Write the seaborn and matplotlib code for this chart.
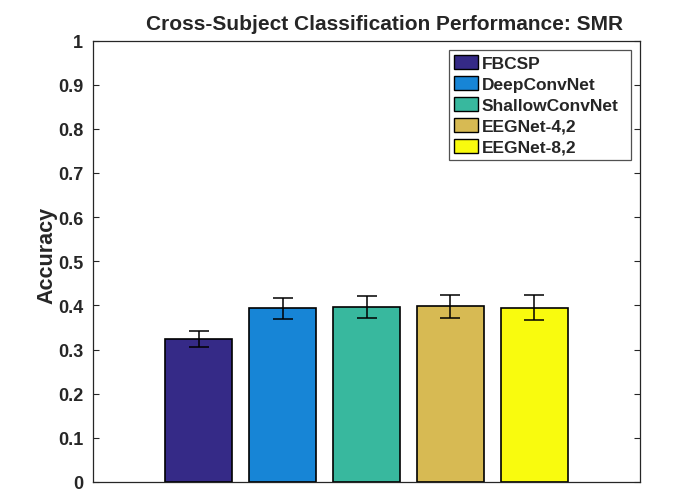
import matplotlib
matplotlib.use("Agg")
import matplotlib.pyplot as plt
import seaborn as sns
import pandas as pd
from matplotlib.patches import Patch

models = ["FBCSP", "DeepConvNet", "ShallowConvNet", "EEGNet-4,2", "EEGNet-8,2"]
accuracy = [0.323, 0.393, 0.396, 0.398, 0.393]
err_low = [0.018, 0.024, 0.025, 0.027, 0.027]
err_high = [0.018, 0.023, 0.025, 0.025, 0.030]
colors = ["#352A87", "#1785D6", "#38B89E", "#D7BA53", "#F9FB0E"]
yticks = [0, 0.1, 0.2, 0.3, 0.4, 0.5, 0.6, 0.7, 0.8, 0.9, 1]
ytick_labels = ["0", "0.1", "0.2", "0.3", "0.4", "0.5", "0.6", "0.7", "0.8", "0.9", "1"]

sns.set_theme(style="white")
plt.rcParams["font.family"] = ["Liberation Sans", "DejaVu Sans"]
plt.rcParams["font.weight"] = "bold"

df = pd.DataFrame({"model": models, "accuracy": accuracy})

fig = plt.figure(figsize=(6.74, 5.02), dpi=100)
ax = fig.add_axes([93 / 674, 19 / 502, 547 / 674, 441.5 / 502])

sns.barplot(data=df, x="model", y="accuracy", hue="model", order=models,
            hue_order=models, palette=colors, dodge=False, width=0.8,
            edgecolor="black", linewidth=1.2, saturation=1, errorbar=None,
            legend=False, ax=ax)

ax.errorbar(range(len(models)), accuracy, yerr=[err_low, err_high], fmt="none",
            ecolor="black", elinewidth=1.1, capsize=7.5, capthick=1.1)

ax.set_xlim(-1.256, 5.256)
ax.set_ylim(0, 1)
ax.set_xticks([])
ax.set_yticks(yticks)
ax.set_yticklabels(ytick_labels, fontsize=13, fontweight="bold", color="#262626")
ax.set_xlabel("")
ax.set_ylabel("Accuracy", fontsize=15.5, fontweight="bold")
ax.yaxis.set_label_coords(-36 / 547, 0.515)
ax.tick_params(axis="y", direction="in", length=4.5, width=0.8, right=True,
               left=True, pad=7, color="#262626")
for s in ax.spines.values():
    s.set_visible(True)
    s.set_color("#262626")
    s.set_linewidth(0.9)

fig.text(385 / 674, 1 - 24 / 502, "Cross-Subject Classification Performance: SMR",
         ha="center", va="center", fontsize=15, fontweight="bold")

handles = [Patch(facecolor=c, edgecolor="black", linewidth=1.0) for c in colors]
leg = ax.legend(handles, models, loc="upper left",
                bbox_to_anchor=((449 - 93) / 547, (483 - 51) / 441.5, 182 / 547, 0.0),
                mode="expand", prop={"weight": "bold", "size": 12.5},
                frameon=True, fancybox=False, edgecolor="#262626",
                borderaxespad=0.0, borderpad=0.3, labelspacing=0.28,
                handlelength=1.38, handleheight=0.86, handletextpad=0.2)
leg.get_frame().set_linewidth(0.9)

fig.savefig("out.png", dpi=100)
